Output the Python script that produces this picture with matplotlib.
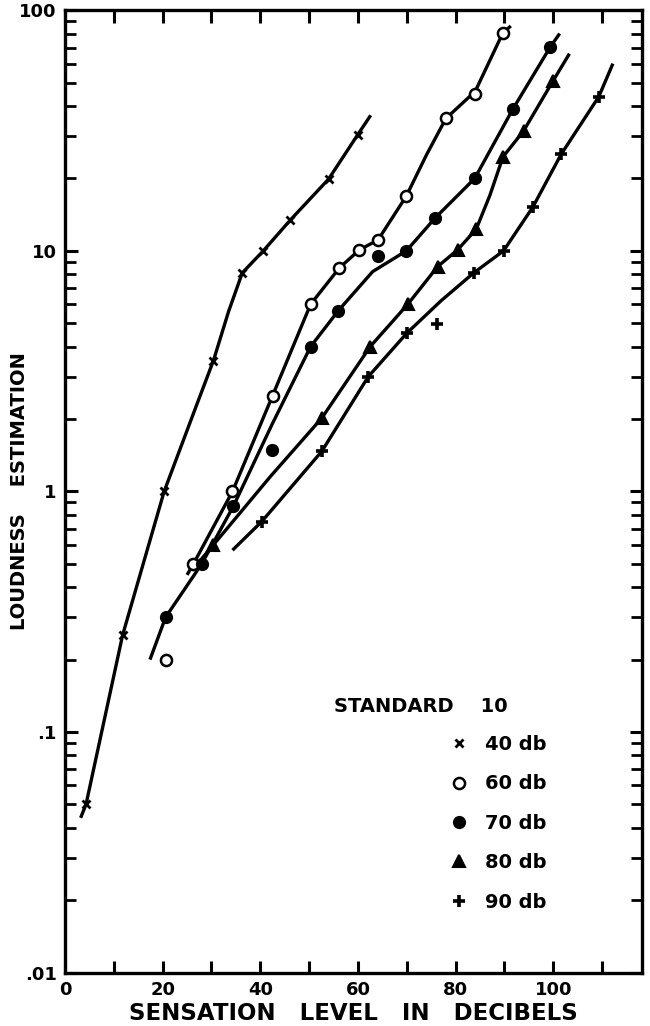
import numpy as np
import matplotlib
matplotlib.use("Agg")
import matplotlib.pyplot as plt
from matplotlib.lines import Line2D
from matplotlib.ticker import FixedLocator, FixedFormatter, LogLocator, NullFormatter

plt.rcParams['font.family'] = ['DejaVu Sans']
plt.rcParams['font.weight'] = 'bold'

# marker points (sensation level dB, loudness estimation)
x40 = [4.3, 11.8, 20.3, 30.4, 36.3, 40.6, 46.1, 54.0, 59.9]
y40 = [0.05, 0.253, 1.0, 3.5, 8.1, 10.0, 13.4, 19.9, 30.3]
x60 = [20.6, 26.3, 34.3, 42.5, 50.3, 56.2, 60.3, 64.1, 69.9, 78.0, 84.0, 89.7]
y60 = [0.2, 0.5, 1.0, 2.5, 6.0, 8.5, 10.1, 11.1, 16.9, 35.5, 44.7, 80.8]
x70 = [20.6, 28.0, 34.5, 42.4, 50.3, 56.0, 64.0, 69.9, 75.8, 83.9, 91.7, 99.4]
y70 = [0.3, 0.5, 0.87, 1.49, 4.0, 5.65, 9.5, 10.0, 13.7, 20.0, 38.8, 70.5]
x80 = [30.4, 52.6, 62.5, 70.2, 76.3, 80.4, 84.2, 89.7, 93.9, 99.9]
y80 = [0.6, 2.02, 4.0, 6.0, 8.6, 10.1, 12.3, 24.6, 31.5, 50.7]
x90 = [40.3, 52.6, 62.1, 70.0, 76.2, 83.7, 89.8, 95.8, 101.6, 109.3]
y90 = [0.75, 1.47, 3.0, 4.55, 4.98, 8.1, 10.0, 15.2, 25.2, 43.7]

# hand-drawn curves
cx40 = [3.2, 4.3, 11.8, 20.3, 27.0, 30.4, 33.5, 36.3, 40.6, 46.1, 54.0, 59.9, 62.6]
cy40 = [0.044, 0.05, 0.253, 1.0, 2.3, 3.5, 5.6, 8.1, 10.0, 13.4, 19.9, 30.3, 36.6]
cx60 = [25.0, 26.3, 34.3, 42.5, 50.3, 56.2, 60.3, 64.1, 69.9, 74.0, 78.0, 84.0, 89.7, 91.3]
cy60 = [0.45, 0.5, 1.0, 2.5, 6.0, 8.5, 10.1, 11.1, 16.9, 25.0, 35.5, 46.0, 80.8, 86.0]
cx70 = [17.4, 20.6, 28.0, 34.5, 42.4, 50.3, 56.0, 63.0, 69.9, 75.8, 83.9, 91.7, 99.4, 101.3]
cy70 = [0.2, 0.3, 0.5, 0.87, 1.9, 4.0, 5.65, 8.2, 10.0, 13.7, 20.0, 38.8, 70.5, 80.0]
cx80 = [26.0, 30.4, 42.0, 52.6, 62.5, 70.2, 76.3, 80.4, 84.2, 87.0, 89.7, 93.9, 99.9, 103.3]
cy80 = [0.47, 0.6, 1.15, 2.02, 4.0, 6.0, 8.6, 10.1, 12.3, 17.0, 24.6, 31.5, 50.7, 66.0]
cx90 = [34.3, 40.3, 52.6, 62.1, 70.0, 77.0, 83.7, 89.8, 95.8, 101.6, 109.3, 112.2]
cy90 = [0.57, 0.75, 1.47, 3.0, 4.55, 6.2, 8.1, 10.0, 15.2, 25.2, 43.7, 60.0]

labels = ['40 db', '60 db', '70 db', '80 db', '90 db']
x_ticks = [0, 10, 20, 30, 40, 50, 60, 70, 80, 90, 100, 110]
x_ticklabels = ['0', '', '20', '', '40', '', '60', '', '80', '', '100', '']
y_ticks = [0.01, 0.1, 1, 10, 100]
y_ticklabels = ['.01', '.1', '1', '10', '100']

fig = plt.figure(figsize=(6.5, 10.26), dpi=100)
ax = fig.add_axes([0.1, 0.052, 0.888, 0.938])
ax.set_yscale('log')
ax.set_xlim(0, 118.2)
ax.set_ylim(0.01, 100)

lw = 2.4
for cx, cy in [(cx40, cy40), (cx60, cy60), (cx70, cy70), (cx80, cy80), (cx90, cy90)]:
    ax.plot(cx, cy, color='black', lw=lw, solid_capstyle='butt', zorder=2)

styles = [
    dict(marker='x', ms=6, mew=2.0, mfc='black'),
    dict(marker='o', ms=8, mew=1.8, mfc='white'),
    dict(marker='o', ms=8, mew=1.5, mfc='black'),
    dict(marker='^', ms=8, mew=1.5, mfc='black'),
    dict(marker='+', ms=9, mew=2.6, mfc='black'),
]
series = [(x40, y40), (x60, y60), (x70, y70), (x80, y80), (x90, y90)]
for (xs, ys), st in zip(series, styles):
    ax.plot(xs, ys, ls='none', color='black', zorder=3, **st)

# axes styling
for sp in ax.spines.values():
    sp.set_linewidth(2.4)
ax.xaxis.set_major_locator(FixedLocator(x_ticks))
ax.xaxis.set_major_formatter(FixedFormatter(x_ticklabels))
ax.yaxis.set_major_locator(FixedLocator(y_ticks))
ax.yaxis.set_major_formatter(FixedFormatter(y_ticklabels))
ax.yaxis.set_minor_locator(LogLocator(base=10, subs=np.arange(2, 10)))
ax.yaxis.set_minor_formatter(NullFormatter())
ax.tick_params(axis='both', which='major', direction='in', top=True, right=True,
               length=9, width=2.2, labelsize=13, pad=6)
ax.tick_params(axis='y', which='minor', direction='in', right=True, left=True,
               length=8, width=2.0)

ax.set_xlabel('SENSATION   LEVEL   IN   DECIBELS', fontsize=16.5, fontweight='bold')
ax.set_ylabel('LOUDNESS    ESTIMATION', fontsize=14, fontweight='bold')
ax.xaxis.set_label_coords(0.5, -0.031)
ax.yaxis.set_label_coords(-0.062, 0.5)

# legend: title as its own text, entries to the right below it
ax.text(0.466, 0.2765, 'STANDARD    10', transform=ax.transAxes, fontsize=14,
        fontweight='bold', ha='left', va='center')
handles = [Line2D([], [], ls='none', color='black', **st) for st in styles]
leg = ax.legend(handles, labels, loc='upper left', bbox_to_anchor=(0.666, 0.247),
                frameon=False, fontsize=14, borderpad=0, borderaxespad=0,
                labelspacing=1.05, handlelength=1.0, handletextpad=0.85)

fig.savefig('out.png', dpi=100)
